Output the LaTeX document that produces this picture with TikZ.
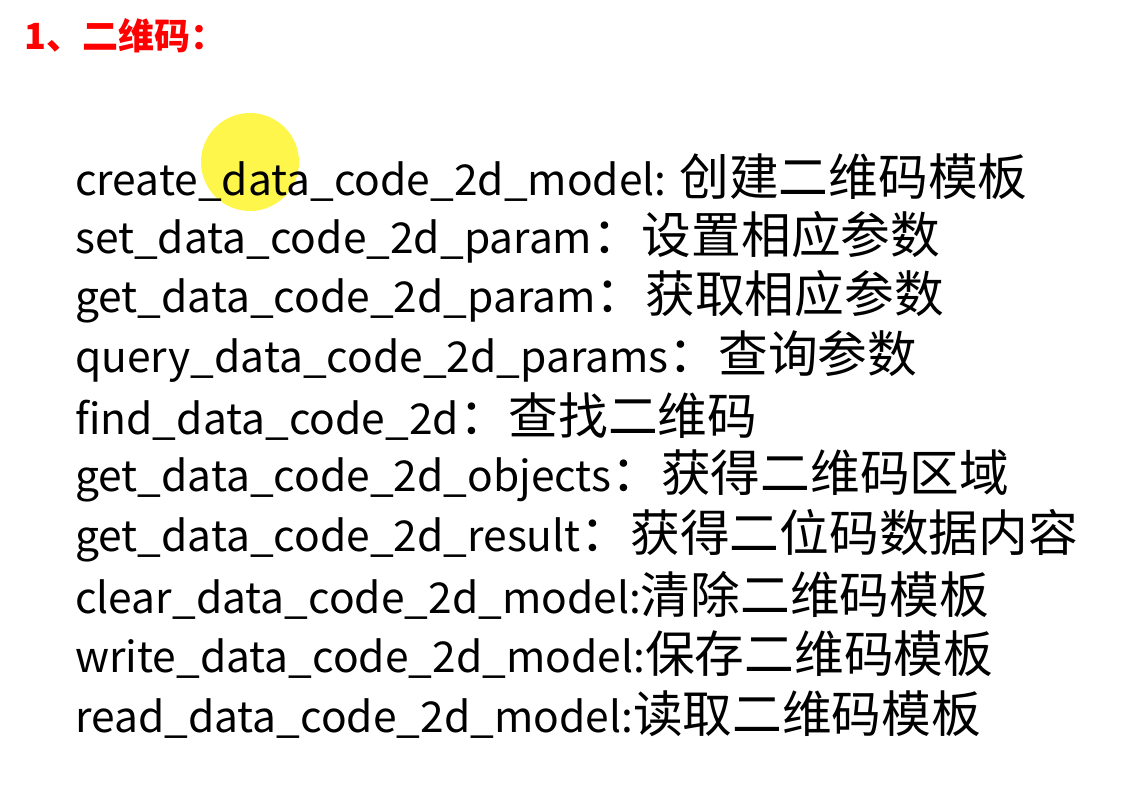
\documentclass[tikz,border=0pt]{standalone}
\usepackage{fontspec}
\setmainfont{Noto Sans CJK SC}
\newfontfamily\zh{Noto Sans CJK SC}[Scale=1.17]
\begin{document}
\begin{tikzpicture}[x=1pt,y=-1pt,
  row/.style={anchor=west,inner sep=0pt,font=\fontsize{42.5}{42}\selectfont}]
\useasboundingbox (0,0) rectangle (1137,795);
\fill[yellow,opacity=0.7] (250,162) circle (49);
\node[anchor=west,inner sep=0pt,text=red,font=\fontsize{36}{36}\selectfont\bfseries] (t) at (24,36) {1、二维码：};
\foreach \t/\c [count=\i from 0] in {
 {create\_data\_code\_2d\_model: }/创建二维码模板,
 {set\_data\_code\_2d\_param}/：设置相应参数,
 {get\_data\_code\_2d\_param}/：获取相应参数,
 {query\_data\_code\_2d\_params}/：查询参数,
 {find\_data\_code\_2d}/：查找二维码,
 {get\_data\_code\_2d\_objects}/：获得二维码区域,
 {get\_data\_code\_2d\_result}/：获得二位码数据内容,
 {clear\_data\_code\_2d\_model:}/清除二维码模板,
 {write\_data\_code\_2d\_model:}/保存二维码模板,
 {read\_data\_code\_2d\_model:}/读取二维码模板}
 \node[row] (r\i) at (75,{178+59.6*\i}) {\t{\zh\c}};
\end{tikzpicture}
\end{document}
